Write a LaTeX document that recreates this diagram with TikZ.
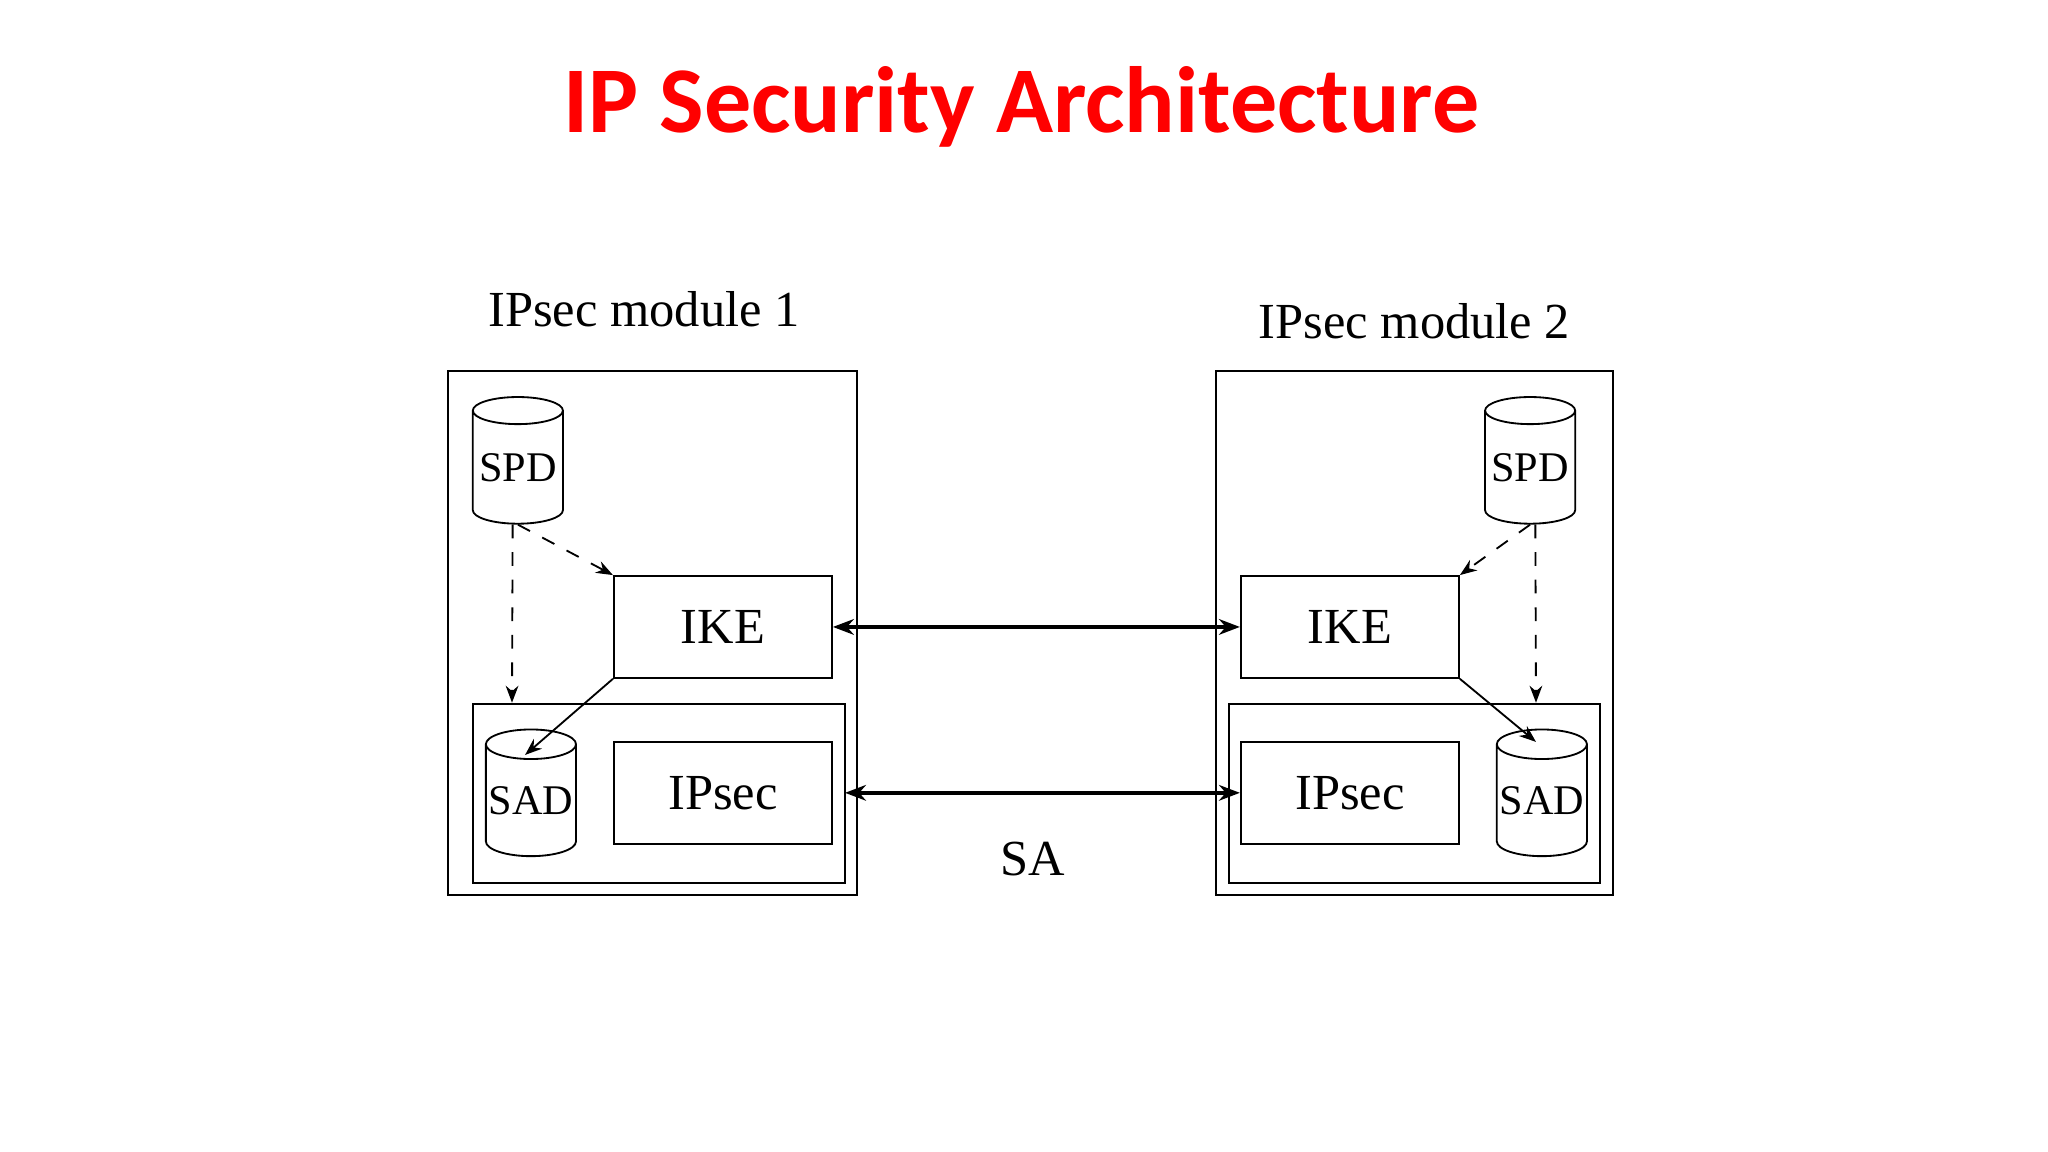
\documentclass[tikz,border=0pt]{standalone}
\usepackage{fontspec}
\setmainfont{Liberation Serif}
\newfontfamily\titlefont{Carlito}
\usetikzlibrary{shapes.geometric,arrows.meta}

\begin{document}
\begin{tikzpicture}[x=0.1mm,y=-0.1mm,
    box/.style={draw,thin,inner sep=0pt},
    db/.style={cylinder,shape border rotate=90,draw,thin,aspect=0.35,
               minimum width=6.9mm,minimum height=9.7mm,inner sep=0pt,font=\fontsize{9.2}{10}\selectfont},
    lbl/.style={font=\fontsize{11}{12}\selectfont},
    link/.style={{Stealth[length=1.6mm]}-{Stealth[length=1.6mm]},line width=0.9pt},
    ctl/.style={-{Stealth[length=1.3mm]},thin}]
    \useasboundingbox (0,0) rectangle (1568,882);
    \node[text=red,font=\titlefont\bfseries\fontsize{20.5}{24}\selectfont] (title) at (782,82) {IP Security Architecture};

    % module 1
    \node[lbl] (m1) at (493,237) {IPsec module 1};
    \draw[thin] (343,284) rectangle (656,685);
    \draw[thin] (362,539) rectangle (647,676);
    \node[box,minimum width=16.7mm,minimum height=7.8mm,lbl] (ike1) at (553.5,480) {IKE};
    \node[box,minimum width=16.7mm,minimum height=7.8mm,lbl] (ipsec1) at (553.5,607) {IPsec};
    \node[db] (spd1) at (396.5,358) {SPD};
    \node[db] (sad1) at (406.5,613) {SAD};
    \coordinate (in1) at (392,538);
    \coordinate (out1) at (647,607);
    \coordinate (key1) at (402,578);

    % module 2
    \node[lbl] (m2) at (1083,246) {IPsec module 2};
    \draw[thin] (931,284) rectangle (1235,685);
    \draw[thin] (941,539) rectangle (1225,676);
    \node[box,minimum width=16.7mm,minimum height=7.8mm,lbl] (ike2) at (1033.5,480) {IKE};
    \node[box,minimum width=16.7mm,minimum height=7.8mm,lbl] (ipsec2) at (1033.5,607) {IPsec};
    \node[db] (spd2) at (1171.5,358) {SPD};
    \node[db] (sad2) at (1180.5,613) {SAD};
    \coordinate (in2) at (1176,538);
    \coordinate (key2) at (1176,568);

    % connections
    \draw[link] (ike1.east) -- (ike2.west);
    \draw[link] (out1) -- (ipsec2.west);
    \node[lbl] (sa) at (791,658) {SA};
    \draw[ctl,dashed] (spd1.south) ++(-4,0) -- (in1);
    \draw[ctl,dashed] (spd1.south) -- (ike1.north west);
    \draw[ctl,dashed] (spd2.south) ++(4,0) -- (in2);
    \draw[ctl,dashed] (spd2.south) -- (ike2.north east);
    \draw[ctl] (ike1.south west) -- (key1);
    \draw[ctl] (ike2.south east) -- (key2);
\end{tikzpicture}
\end{document}
